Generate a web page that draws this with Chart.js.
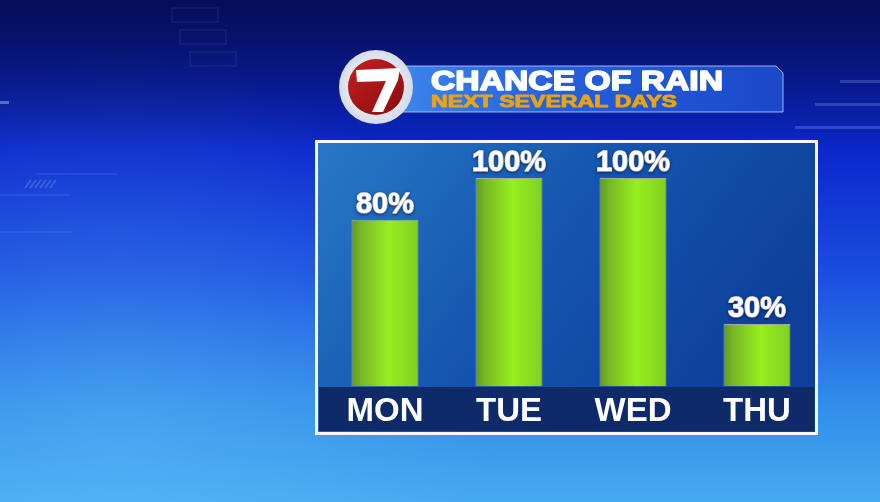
<!DOCTYPE html>
<html>
<head>
<meta charset="utf-8">
<script src="https://cdn.jsdelivr.net/npm/chart.js@4.4.1/dist/chart.umd.min.js"></script>
<style>
  html, body { margin: 0; padding: 0; background: #0b1f9a; }
  #wrap { width: 880px; height: 502px; position: relative; }
</style>
</head>
<body>
<div id="wrap"><canvas id="rainChart" width="880" height="502"></canvas></div>
<script>
const days = ['MON', 'TUE', 'WED', 'THU'];
const rainChance = [80, 100, 100, 30];
const titleText = 'CHANCE OF RAIN';
const subtitleText = 'NEXT SEVERAL DAYS';

// text squeezed/stretched to a given width (broadcast font is wider than ours)
function fitText(c, text, x, y, width, thick) {
    const w = c.measureText(text).width;
    c.save();
    c.translate(x, y);
    c.scale(width / w, 1);
    if (thick) {
        c.lineWidth = thick;
        c.lineJoin = 'round';
        c.strokeStyle = c.fillStyle;
        c.strokeText(text, 0, 0);
    }
    c.fillText(text, 0, 0);
    c.restore();
}

const backdrop = {
    id: 'backdrop',
    beforeDraw(chart) {
        const c = chart.ctx;
        const W = chart.width, H = chart.height;
        c.save();
        let g = c.createLinearGradient(0, 0, 0, H);
        g.addColorStop(0, '#08127a');
        g.addColorStop(0.3, '#0b28cc');
        g.addColorStop(0.55, '#1a4ee0');
        g.addColorStop(0.8, '#318ce8');
        g.addColorStop(1, '#46aaf0');
        c.fillStyle = g;
        c.fillRect(0, 0, W, H);
        let r = c.createRadialGradient(120, 430, 20, 120, 430, 380);
        r.addColorStop(0, 'rgba(110,200,255,0.3)');
        r.addColorStop(1, 'rgba(110,200,255,0)');
        c.fillStyle = r;
        c.fillRect(0, 0, W, H);
        let d = c.createLinearGradient(0, 0, 0, 150);
        d.addColorStop(0, 'rgba(5,10,60,0.55)');
        d.addColorStop(1, 'rgba(5,10,60,0)');
        c.fillStyle = d;
        c.fillRect(0, 0, W, 150);

        // faint background decorations
        c.strokeStyle = 'rgba(150,180,255,0.07)';
        c.lineWidth = 2;
        c.strokeRect(172, 8, 46, 14);
        c.strokeRect(180, 30, 46, 14);
        c.strokeRect(190, 52, 46, 14);
        c.strokeStyle = 'rgba(150,190,255,0.1)';
        c.beginPath();
        c.moveTo(0, 195); c.lineTo(70, 195);
        c.moveTo(0, 232); c.lineTo(72, 232);
        c.moveTo(36, 174); c.lineTo(118, 174);
        c.stroke();
        c.strokeStyle = 'rgba(200,220,255,0.22)';
        c.lineWidth = 1.5;
        for (let i = 0; i < 6; i++) {
            c.beginPath();
            c.moveTo(25 + i * 5, 188); c.lineTo(31 + i * 5, 180);
            c.stroke();
        }
        c.fillStyle = 'rgba(200,220,255,0.4)';
        c.fillRect(0, 101, 9, 3);
        c.fillStyle = 'rgba(200,220,255,0.2)';
        c.fillRect(840, 80, 40, 3);
        c.fillRect(815, 103, 65, 3);
        c.fillRect(795, 126, 85, 3);

        // panel
        c.fillStyle = '#f4f6fa';
        c.fillRect(315, 140, 503, 295);
        g = c.createLinearGradient(318, 143, 700, 430);
        g.addColorStop(0, '#2878c6');
        g.addColorStop(0.5, '#1556b0');
        g.addColorStop(1, '#0e3f9c');
        c.fillStyle = g;
        c.fillRect(318, 143, 497, 289);
        c.fillStyle = '#0f2a68';
        c.fillRect(319, 387, 495, 44);

        // title banner
        c.beginPath();
        c.moveTo(395, 66); c.lineTo(776, 66); c.lineTo(783, 73);
        c.lineTo(783, 112); c.lineTo(395, 112); c.closePath();
        g = c.createLinearGradient(395, 0, 783, 0);
        g.addColorStop(0, '#3d86ee');
        g.addColorStop(0.4, '#2460dc');
        g.addColorStop(1, '#1b48c8');
        c.fillStyle = g;
        c.fill();
        c.strokeStyle = 'rgba(190,215,255,0.8)';
        c.lineWidth = 1;
        c.stroke();
        c.fillStyle = '#ffffff';
        c.font = 'bold 28px "Liberation Sans", Arial, sans-serif';
        c.textBaseline = 'alphabetic';
        fitText(c, titleText, 431, 90, 292, 1.6);
        c.fillStyle = '#e8a318';
        c.font = 'bold 16px "Liberation Sans", Arial, sans-serif';
        fitText(c, subtitleText, 431, 107, 246, 0.9);

        // station logo
        r = c.createRadialGradient(372, 82, 5, 376, 88, 38);
        r.addColorStop(0, '#ffffff');
        r.addColorStop(1, '#d4dbe6');
        c.fillStyle = r;
        c.beginPath(); c.arc(376, 87, 37, 0, Math.PI * 2); c.fill();
        r = c.createLinearGradient(350, 60, 400, 115);
        r.addColorStop(0, '#c22020');
        r.addColorStop(1, '#8c0c10');
        c.fillStyle = r;
        c.beginPath(); c.arc(376, 87, 28, 0, Math.PI * 2); c.fill();
        c.fillStyle = '#ffffff';
        c.beginPath();
        c.moveTo(356, 70); c.lineTo(400, 68); c.lineTo(398, 80);
        c.lineTo(383, 112); c.lineTo(372, 112); c.lineTo(386, 81);
        c.lineTo(357, 82); c.closePath();
        c.fill();
        c.restore();
    }
};

const valueLabels = {
    id: 'valueLabels',
    afterDatasetsDraw(chart) {
        const c = chart.ctx;
        const meta = chart.getDatasetMeta(0);
        c.save();
        c.font = 'bold 29px "Liberation Sans", Arial, sans-serif';
        c.textAlign = 'center';
        c.textBaseline = 'alphabetic';
        c.fillStyle = '#ffffff';
        c.strokeStyle = '#ffffff';
        c.lineWidth = 1.4;
        c.lineJoin = 'round';
        c.shadowColor = 'rgba(0,0,40,0.5)';
        c.shadowBlur = 3;
        c.shadowOffsetY = 1;
        meta.data.forEach((bar, i) => {
            c.strokeText(rainChance[i] + '%', bar.x, bar.y - 7);
            c.fillText(rainChance[i] + '%', bar.x, bar.y - 7);
        });
        c.restore();
    }
};

function barFill(context) {
    const chart = context.chart;
    const xs = chart.scales.x;
    if (!xs || context.dataIndex === undefined) return '#8ee81e';
    const cx = xs.getPixelForTick(context.dataIndex);
    const half = (xs.width / days.length) * 0.54 / 2;
    if (!isFinite(cx) || !isFinite(half) || half <= 0) return '#8ee81e';
    const g = chart.ctx.createLinearGradient(cx - half, 0, cx + half, 0);
    g.addColorStop(0, '#5f9a22');
    g.addColorStop(0.15, '#78b824');
    g.addColorStop(0.55, '#96ef1e');
    g.addColorStop(1, '#80d022');
    return g;
}

// silver look of the day names
function tickFill(context) {
    const g = context.chart.ctx.createLinearGradient(0, 394, 0, 424);
    g.addColorStop(0, '#ffffff');
    g.addColorStop(0.55, '#f4f6f8');
    g.addColorStop(1, '#b8c0c8');
    return g;
}

new Chart(document.getElementById('rainChart').getContext('2d'), {
    type: 'bar',
    data: {
        labels: days,
        datasets: [{
            data: rainChance,
            backgroundColor: barFill,
            borderColor: 'rgba(170,185,160,0.9)',
            borderWidth: 1,
            categoryPercentage: 1,
            barPercentage: 0.54
        }]
    },
    options: {
        responsive: false,
        animation: false,
        events: [],
        layout: {
            padding: { left: 323, right: 61, top: 178, bottom: 64 }
        },
        plugins: {
            legend: { display: false },
            tooltip: { enabled: false },
            title: { display: false }
        },
        scales: {
            x: {
                grid: { display: false, drawTicks: false },
                border: { display: false },
                ticks: {
                    color: tickFill,
                    padding: 6,
                    font: { family: '"Liberation Sans", Arial, sans-serif', size: 33, weight: 'bold' }
                }
            },
            y: {
                display: false,
                min: 0,
                max: 100
            }
        }
    },
    plugins: [backdrop, valueLabels]
});
</script>
</body>
</html>
